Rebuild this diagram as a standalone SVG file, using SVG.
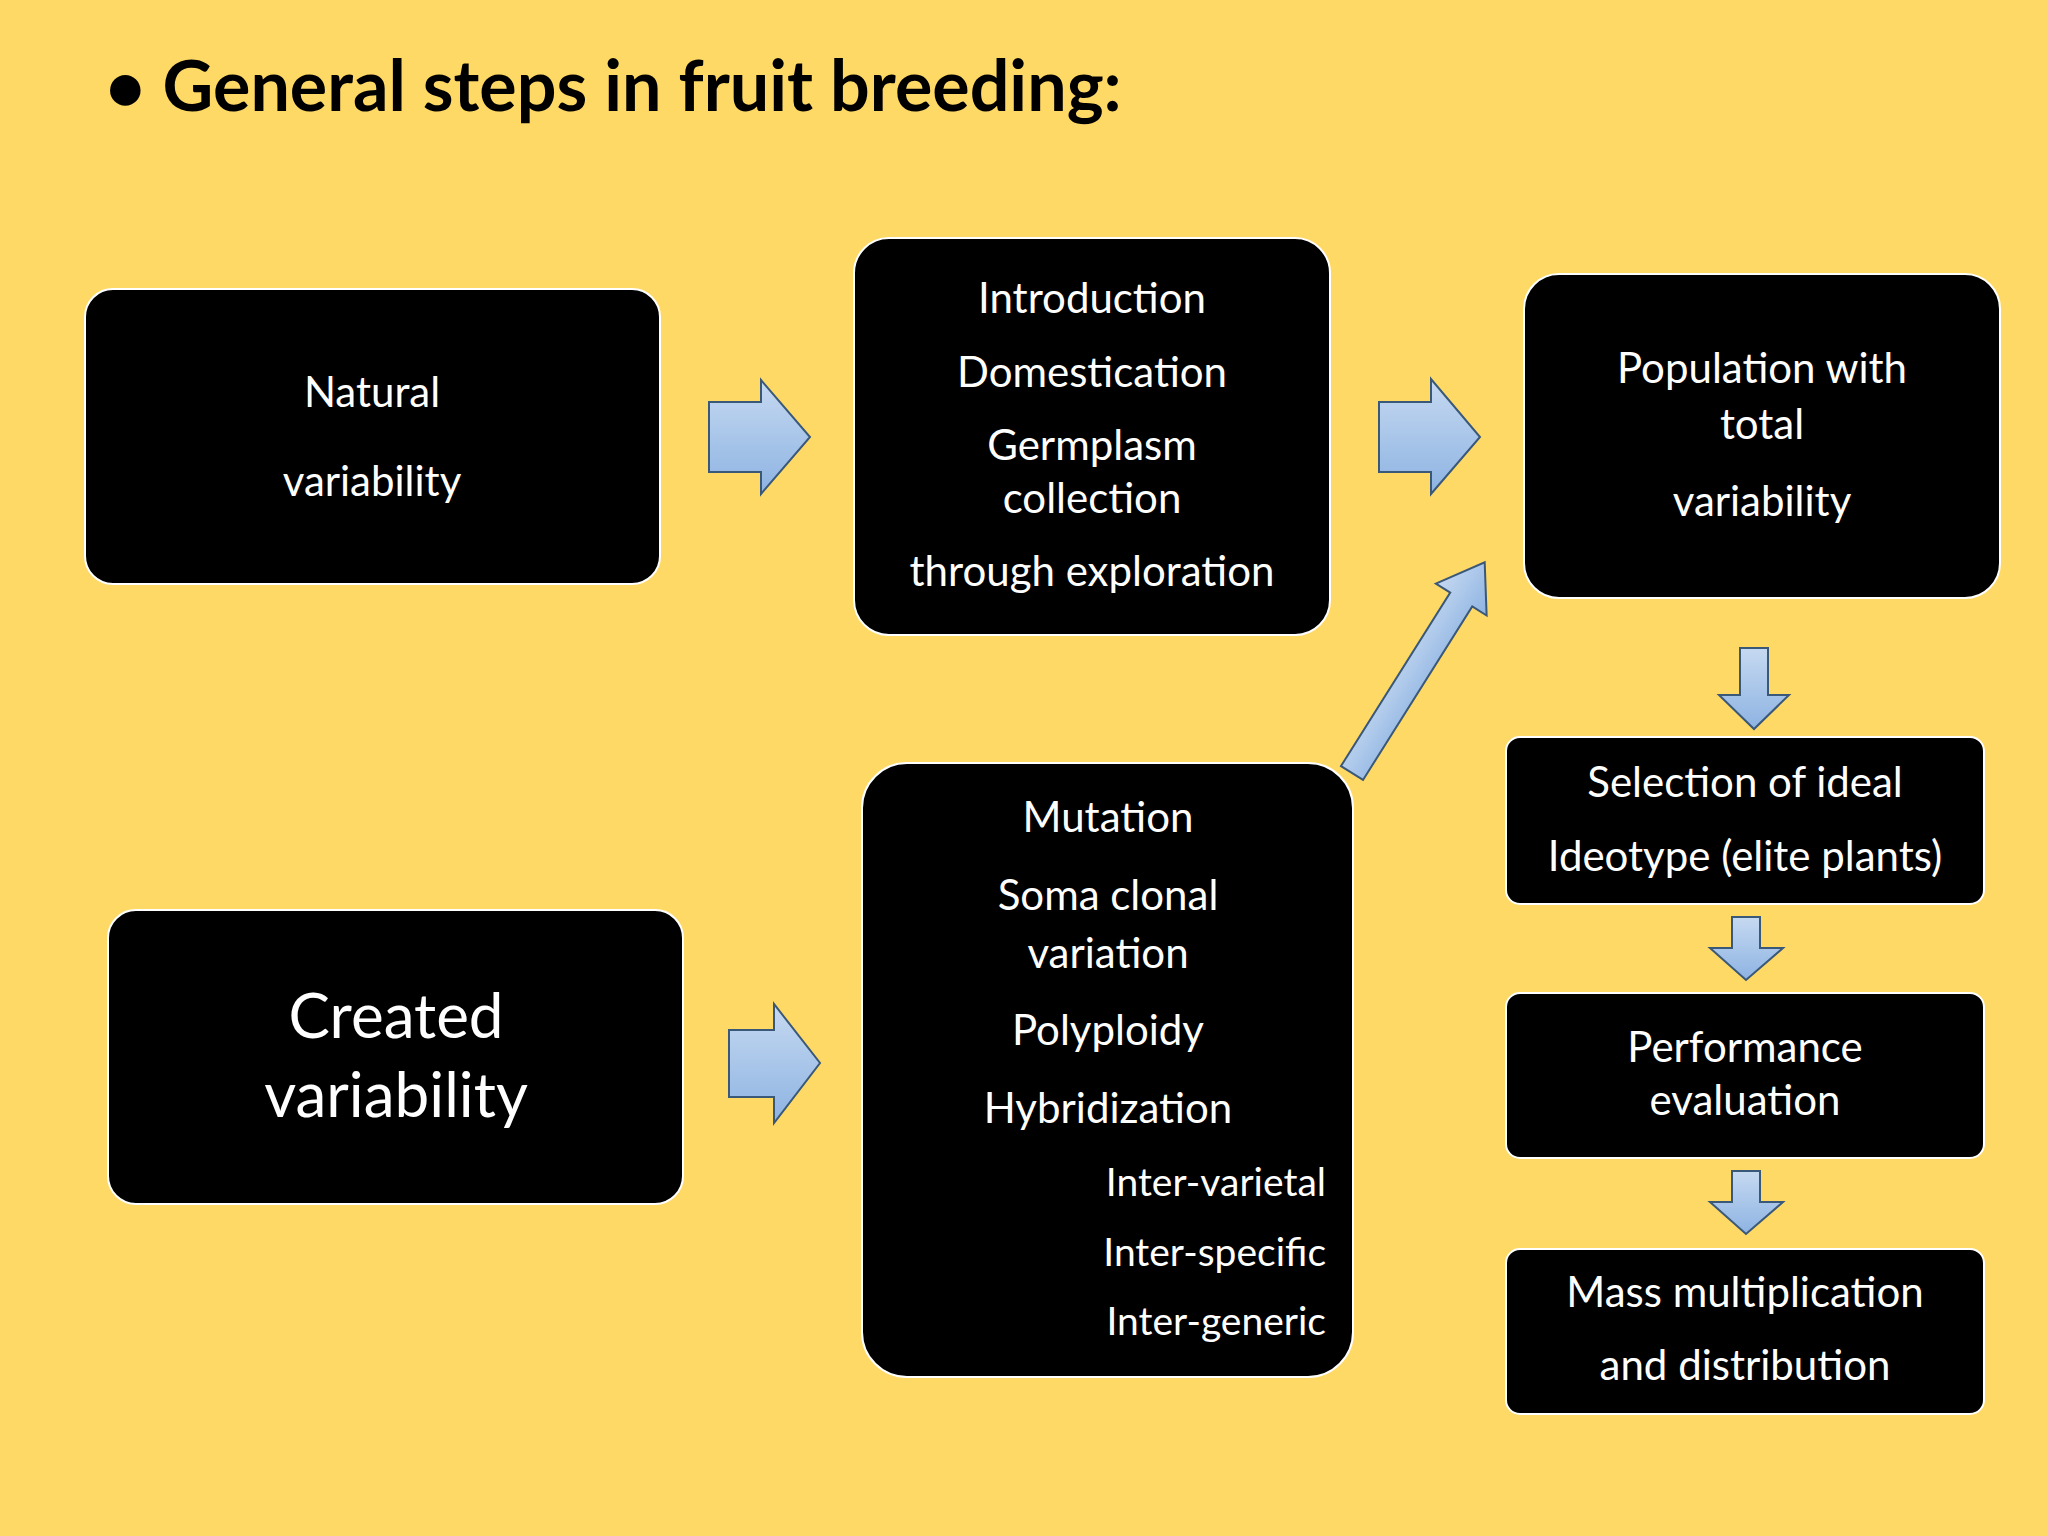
<svg xmlns="http://www.w3.org/2000/svg" width="2048" height="1536" viewBox="0 0 2048 1536">
<defs>
<linearGradient id="ag" x1="0" y1="0" x2="0" y2="1"><stop offset="0" stop-color="#C6D9F1"/><stop offset="1" stop-color="#8DB3E2"/></linearGradient>
<style>
.box{fill:#000;stroke:#fff;stroke-width:2}
.t{font-family:Lato,"Open Sans",sans-serif;fill:#fff;font-size:42px;text-anchor:middle}
.s{font-size:39px;text-anchor:end}
.big{font-size:62px}
.arr{fill:url(#ag);stroke:#3A5878;stroke-width:2}
</style>
</defs>
<rect width="2048" height="1536" fill="#FFD966"/>
<text x="105" y="111" font-family="Lato,'Open Sans',sans-serif" font-weight="bold" font-size="70" fill="#000">• General steps in fruit breeding:</text>
<g id="natural"><rect class="box" x="85" y="289" width="575" height="295" rx="28"/>
<text class="t" x="372" y="407">Natural</text><text class="t" x="372" y="496">variability</text></g>
<g id="intro"><rect class="box" x="854" y="238" width="476" height="397" rx="35"/>
<text class="t" x="1092" y="313">Introduction</text><text class="t" x="1092" y="387">Domestication</text><text class="t" x="1092" y="460">Germplasm</text><text class="t" x="1092" y="513">collection</text><text class="t" x="1092" y="586">through exploration</text></g>
<g id="population"><rect class="box" x="1524" y="274" width="476" height="324" rx="35"/>
<text class="t" x="1762" y="383">Population with</text><text class="t" x="1762" y="439">total</text><text class="t" x="1762" y="516">variability</text></g>
<g id="created"><rect class="box" x="108" y="910" width="575" height="294" rx="28"/>
<text class="t big" x="396" y="1038">Created</text><text class="t big" x="396" y="1117">variability</text></g>
<g id="mutation"><rect class="box" x="862" y="763" width="491" height="614" rx="45"/>
<text class="t" x="1108" y="832">Mutation</text><text class="t" x="1108" y="910">Soma clonal</text><text class="t" x="1108" y="968">variation</text><text class="t" x="1108" y="1045">Polyploidy</text><text class="t" x="1108" y="1123">Hybridization</text>
<text class="t s" x="1326" y="1196">Inter-varietal</text><text class="t s" x="1326" y="1266">Inter-specific</text><text class="t s" x="1326" y="1335">Inter-generic</text></g>
<g id="selection"><rect class="box" x="1506" y="737" width="478" height="167" rx="14"/>
<text class="t" x="1745" y="797">Selection of ideal</text><text class="t" x="1745" y="871">Ideotype (elite plants)</text></g>
<g id="performance"><rect class="box" x="1506" y="993" width="478" height="165" rx="14"/>
<text class="t" x="1745" y="1062">Performance</text><text class="t" x="1745" y="1115">evaluation</text></g>
<g id="mass"><rect class="box" x="1506" y="1249" width="478" height="165" rx="14"/>
<text class="t" x="1745" y="1307">Mass multiplication</text><text class="t" x="1745" y="1380">and distribution</text></g>
<g id="connectors">
<path class="arr" d="M709,402 H761 V380 L810,437 L761,494 V472 H709 Z"/>
<path class="arr" d="M1379,402 H1431 V379 L1480,437 L1431,494 V472 H1379 Z"/>
<path class="arr" d="M729,1030 H774 V1004 L820,1063 L774,1123 V1097 H729 Z"/>
<path class="arr" d="M0,-13 H205 V-30 L249,0 L205,30 V13 H0 Z" transform="translate(1352,773) rotate(-57.8)"/>
<path class="arr" d="M1740,648 H1768 V695 H1789 L1754,729 L1719,695 H1740 Z"/>
<path class="arr" d="M1732,917 H1760 V948 H1783 L1746,980 L1710,948 H1732 Z"/>
<path class="arr" d="M1732,1171 H1760 V1202 H1783 L1746,1234 L1710,1202 H1732 Z"/>
</g>
</svg>
